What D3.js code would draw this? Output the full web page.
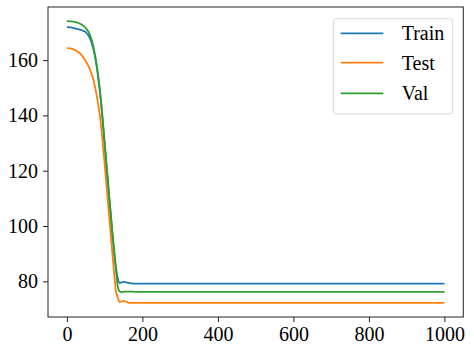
<!DOCTYPE html>
<html>
<head>
<meta charset="utf-8">
<script src="https://cdn.jsdelivr.net/npm/d3@7"></script>
<style>
  body { margin: 0; background: #fff; }
  svg { display: block; }
  text { font-family: "Liberation Serif", "Times New Roman", serif; }
</style>
</head>
<body>
<svg id="chart" width="474" height="353"></svg>
<script>
// ---- Data ----
const epochs = [0, 10, 20, 30, 40, 50, 60, 70, 80, 90, 100, 110, 120, 130, 135, 140, 145, 150, 155, 160, 170, 180, 200, 400, 600, 800, 1000];
const trainVals = [171.9, 171.8, 171.5, 171.2, 170.8, 170.1, 168.2, 164.2, 156.8, 145.5, 130.0, 114.0, 98.5, 85.0, 81.0, 79.4, 79.6, 79.8, 79.7, 79.5, 79.3, 79.2, 79.2, 79.2, 79.2, 79.2, 79.2];
const testVals  = [164.3, 164.2, 163.7, 162.9, 161.6, 159.6, 157.0, 153.0, 146.5, 137.0, 122.5, 106.5, 91.0, 76.5, 74.0, 72.5, 72.7, 72.9, 72.8, 72.4, 72.2, 72.2, 72.2, 72.2, 72.2, 72.2, 72.2];
const valVals   = [174.1, 174.0, 173.8, 173.4, 172.8, 171.6, 169.5, 165.0, 157.2, 145.5, 130.0, 114.0, 98.0, 84.0, 78.0, 76.3, 76.1, 76.2, 76.3, 76.3, 76.3, 76.2, 76.2, 76.2, 76.2, 76.2, 76.2];
const seriesNames = ["Train", "Test", "Val"];
const seriesColors = ["#1f77b4", "#ff7f0e", "#2ca02c"];
const xTicks = [0, 200, 400, 600, 800, 1000];
const yTicks = [80, 100, 120, 140, 160];

// ---- Layout ----
const svg = d3.select("#chart");
const plot = { left: 48, top: 7, right: 463.3, bottom: 317 };

const allVals = trainVals.concat(testVals, valVals);
const yMin = d3.min(allVals), yMax = d3.max(allVals);
const yPad = (yMax - yMin) * 0.05;
const xPad = (d3.max(epochs) - d3.min(epochs)) * 0.05;

const x = d3.scaleLinear()
  .domain([d3.min(epochs) - xPad, d3.max(epochs) + xPad])
  .range([plot.left, plot.right]);
const y = d3.scaleLinear()
  .domain([yMin - yPad, yMax + yPad])
  .range([plot.bottom, plot.top]);

// ---- Lines ----
const seriesData = [trainVals, testVals, valVals];
const line = d3.line()
  .x((d, i) => x(epochs[i]))
  .y(d => y(d))
  .curve(d3.curveMonotoneX);

const lineG = svg.append("g");
seriesData.forEach((vals, k) => {
  lineG.append("path")
    .datum(vals)
    .attr("fill", "none")
    .attr("stroke", seriesColors[k])
    .attr("stroke-width", 1.8)
    .attr("d", line);
});

// ---- Axes ----
const xAxis = svg.append("g")
  .attr("transform", `translate(0,${plot.bottom})`)
  .call(d3.axisBottom(x).tickValues(xTicks).tickSize(5).tickPadding(5).tickFormat(d3.format("d")));
const yAxis = svg.append("g")
  .attr("transform", `translate(${plot.left},0)`)
  .call(d3.axisLeft(y).tickValues(yTicks).tickSize(5).tickPadding(5).tickFormat(d3.format("d")));

[xAxis, yAxis].forEach(g => {
  g.select(".domain").remove();
  g.selectAll(".tick line").attr("stroke", "#222").attr("stroke-width", 1);
  g.selectAll(".tick text").attr("fill", "#000").style("font-size", "20px")
    .style("font-family", '"Liberation Serif", "Times New Roman", serif');
});

// frame (spines)
svg.append("rect")
  .attr("x", plot.left).attr("y", plot.top)
  .attr("width", plot.right - plot.left).attr("height", plot.bottom - plot.top)
  .attr("fill", "none").attr("stroke", "#222").attr("stroke-width", 1);

// ---- Legend ----
const lg = svg.append("g");
lg.append("rect")
  .attr("x", 333.3).attr("y", 18.7)
  .attr("width", 119.4).attr("height", 95.3)
  .attr("rx", 3).attr("ry", 3)
  .attr("fill", "#fff").attr("fill-opacity", 0.8)
  .attr("stroke", "#d8d8d8").attr("stroke-width", 1);
const legendRowY = [33.3, 62.7, 93.3];
seriesNames.forEach((name, k) => {
  lg.append("line")
    .attr("x1", 340.7).attr("x2", 383.3)
    .attr("y1", legendRowY[k]).attr("y2", legendRowY[k])
    .attr("stroke", seriesColors[k]).attr("stroke-width", 1.8);
  lg.append("text")
    .attr("x", 401.7).attr("y", legendRowY[k])
    .attr("dy", "0.35em")
    .style("font-size", "20px")
    .attr("fill", "#000")
    .text(name);
});
</script>
</body>
</html>
